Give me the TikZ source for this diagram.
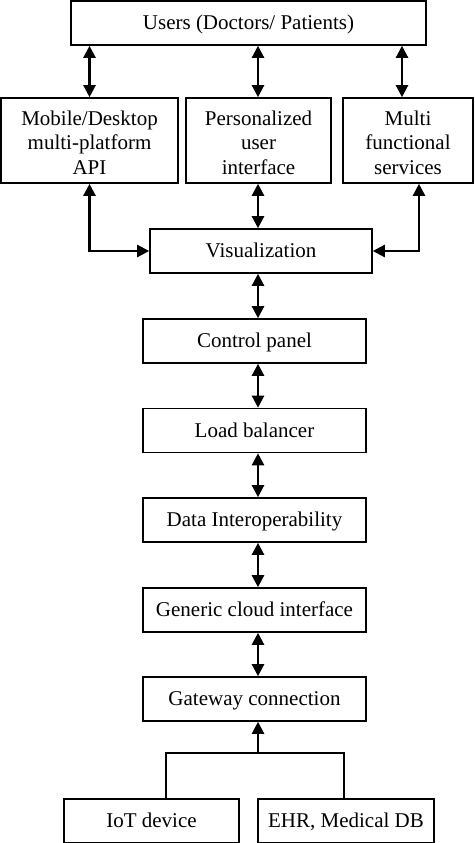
\documentclass[tikz,border=0pt]{standalone}
\usepackage{fontspec}
\setmainfont{Liberation Serif}
\usetikzlibrary{arrows.meta,positioning,calc}
\tikzset{block/.style={rectangle, draw=black, line width=1.6pt, inner sep=0pt, minimum height=44pt, text height=17pt, text depth=4pt, align=center, font=\fontsize{21}{24.5}\selectfont, execute at begin node=\setlength{\baselineskip}{24.5pt}},
	tall/.style={block, minimum height=85pt, text height=71pt, text depth=4pt},
	link/.style={line width=2.3pt, {Triangle[length=12pt,width=12pt]}-{Triangle[length=12pt,width=12pt]}},
	feed/.style={line width=2.3pt, -{Triangle[length=12pt,width=12pt]}}}

\begin{document}
\begin{tikzpicture}[x=1pt,y=-1pt]
		\useasboundingbox (0,0) rectangle (474,843);
		\node[block, minimum width=355pt] (users) at (248.5,23) {Users (Doctors/ Patients)};
		\node[tall, minimum width=177pt] (mobile) at (89.5,140.5) {Mobile/Desktop\\ multi-platform\\ API};
		\node[tall, minimum width=145pt] (person) at (258.5,140.5) {Personalized\\ user\\ interface};
		\node[tall, minimum width=130pt] (multi) at (408,140.5) {Multi\\ functional\\ services};
		\node[block, minimum width=222pt] (visual) at (261,251) {Visualization};
		\node[block, minimum width=223pt] (control) at (254.5,341) {Control panel};
		\node[block, minimum width=223pt] (load) at (254.5,430.5) {Load balancer};
		\node[block, minimum width=223pt] (interop) at (254.5,520) {Data Interoperability};
		\node[block, minimum width=223pt] (cloud) at (254.5,610) {Generic cloud interface};
		\node[block, minimum width=223pt] (gateway) at (254.5,699) {Gateway connection};
		\node[block, minimum width=175pt] (iot) at (151.5,821) {IoT device};
		\node[block, minimum width=176pt] (ehr) at (346,821) {EHR, Medical DB};
		% guide lines for the arrows
		\coordinate (axis) at (258,0);
		\coordinate (mright) at (402,0);
		\coordinate (vright) at (419,0);
		\coordinate (iotup) at (166,0);
		\coordinate (ehrup) at (344,0);
		\coordinate (join) at (258,753);
		\draw[link] (users.south -| mobile) -- (mobile.north);
		\draw[link] (users.south -| axis) -- (person.north -| axis);
		\draw[link] (users.south -| mright) -- (multi.north -| mright);
		\draw[link] (mobile.south) |- (visual.west);
		\draw[link] (person.south -| axis) -- (visual.north -| axis);
		\draw[link] (multi.south -| vright) |- (visual.east);
		\draw[link] (visual.south -| axis) -- (control.north -| axis);
		\draw[link] (control.south -| axis) -- (load.north -| axis);
		\draw[link] (load.south -| axis) -- (interop.north -| axis);
		\draw[link] (interop.south -| axis) -- (cloud.north -| axis);
		\draw[link] (cloud.south -| axis) -- (gateway.north -| axis);
		\draw[line width=1.6pt] (iot.north -| iotup) |- (join) -| (ehr.north -| ehrup);
		\draw[feed] (join) -- (gateway.south -| axis);
\end{tikzpicture}
\end{document}
